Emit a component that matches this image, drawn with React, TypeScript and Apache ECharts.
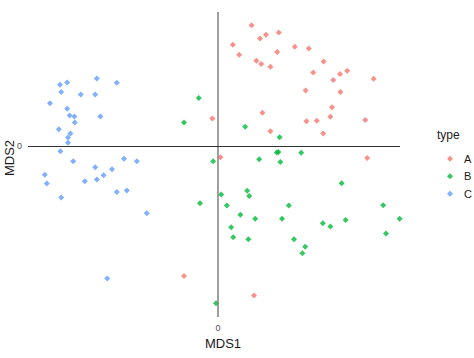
import React, { useEffect, useRef } from "react";
import * as echarts from "echarts";

// MDS coordinates (units)
const typeA: number[][] = [
  [0.084, 0.302], [0.037, 0.253], [0.105, 0.269], [0.12, 0.278], [0.152, 0.284],
  [0.053, 0.228], [0.148, 0.235], [0.192, 0.248], [0.227, 0.244], [0.096, 0.213],
  [0.108, 0.205], [0.131, 0.198], [0.264, 0.211], [0.238, 0.184], [0.288, 0.165],
  [0.305, 0.18], [0.323, 0.188], [0.389, 0.168], [0.219, 0.139], [0.306, 0.135],
  [0.285, 0.097], [0.111, 0.083], [0.281, 0.073], [-0.014, 0.069], [0.221, 0.062],
  [0.247, 0.063], [0.368, 0.065], [0.131, 0.037], [0.263, 0.031], [0.006, -0.028],
  [0.373, -0.03], [-0.085, -0.325], [0.09, -0.374],
];
const typeB: number[][] = [
  [-0.048, 0.12], [-0.085, 0.059], [0.068, 0.048], [0.154, 0.022], [0.147, -0.016],
  [0.151, -0.015], [0.208, -0.017], [-0.012, -0.038], [0.103, -0.033], [0.156, -0.04],
  [0.309, -0.093], [0.008, -0.121], [0.073, -0.112], [0.078, -0.125], [-0.045, -0.143],
  [0.022, -0.149], [0.177, -0.149], [0.413, -0.148], [0.056, -0.172], [0.093, -0.182],
  [0.16, -0.182], [0.319, -0.185], [0.454, -0.182], [0.262, -0.193], [0.281, -0.201],
  [0.033, -0.203], [0.038, -0.228], [0.076, -0.233], [0.19, -0.233], [0.42, -0.219],
  [0.218, -0.252], [0.211, -0.268], [-0.005, -0.393],
];
const typeC: number[][] = [
  [-0.303, 0.169], [-0.377, 0.159], [-0.395, 0.153], [-0.253, 0.158], [-0.392, 0.135],
  [-0.343, 0.129], [-0.307, 0.129], [-0.42, 0.107], [-0.377, 0.093], [-0.371, 0.076],
  [-0.359, 0.074], [-0.294, 0.074], [-0.358, 0.059], [-0.398, 0.042], [-0.369, 0.031],
  [-0.375, 0.021], [-0.375, 0.008], [-0.394, -0.013], [-0.362, -0.038], [-0.235, -0.032],
  [-0.203, -0.038], [-0.307, -0.053], [-0.265, -0.058], [-0.433, -0.072], [-0.286, -0.073],
  [-0.428, -0.094], [-0.333, -0.088], [-0.303, -0.084], [-0.253, -0.115], [-0.228, -0.111],
  [-0.392, -0.129], [-0.178, -0.168], [-0.277, -0.331],
];
const typeNames = ["A", "B", "C"];
const typeColors = ["#F8766D", "#00BA38", "#619CFF"];
const xRange = [-0.475, 0.455];
const yRange = [-0.4275, 0.335];
const tickValues = [0];

export default function App() {
  const ref = useRef<HTMLDivElement>(null);
  useEffect(() => {
    if (!ref.current) return;
    const chart = echarts.init(ref.current, null, { renderer: "svg" });
    const dataSets = [typeA, typeB, typeC];
    const font = "Liberation Sans, Arial, sans-serif";
    chart.setOption({
      animation: false,
      grid: { left: 28, right: 74, top: 12, bottom: 41 },
      xAxis: {
        type: "value",
        min: xRange[0],
        max: xRange[1],
        axisLine: { show: false, onZero: false },
        axisTick: { show: false },
        splitLine: { show: false },
        axisLabel: {
          customValues: tickValues,
          color: "#4d4d4d",
          fontSize: 9,
          fontFamily: font,
          margin: 6,
        },
      },
      yAxis: {
        type: "value",
        min: yRange[0],
        max: yRange[1],
        axisLine: { show: false, onZero: false },
        axisTick: { show: false },
        splitLine: { show: false },
        axisLabel: {
          customValues: tickValues,
          color: "#4d4d4d",
          fontSize: 9,
          fontFamily: font,
          margin: 6,
        },
      },
      legend: {
        orient: "vertical",
        left: 442,
        top: 147,
        itemWidth: 6,
        itemHeight: 6,
        itemGap: 4,
        icon: "diamond",
        data: typeNames,
        textStyle: {
          fontFamily: font,
          fontSize: 11,
          color: "#1a1a1a",
          lineHeight: 13.5,
          padding: [0, 0, 0, 6],
        },
      },
      graphic: [
        {
          type: "text",
          left: 437,
          top: 129,
          style: { text: "type", font: `12px ${font}`, fill: "#1a1a1a" },
        },
        {
          type: "text",
          x: 223,
          y: 343,
          style: {
            text: "MDS1",
            font: `13px ${font}`,
            fill: "#1a1a1a",
            align: "center",
            verticalAlign: "middle",
          },
        },
        {
          type: "text",
          x: 9,
          y: 158,
          rotation: Math.PI / 2,
          style: {
            text: "MDS2",
            font: `13px ${font}`,
            fill: "#1a1a1a",
            align: "center",
            verticalAlign: "middle",
          },
        },
      ],
      series: dataSets.map((d, i) => ({
        type: "scatter",
        name: typeNames[i],
        data: d,
        symbol: "diamond",
        symbolSize: 6,
        itemStyle: { color: typeColors[i] },
        markLine:
          i === 0
            ? {
                silent: true,
                symbol: "none",
                label: { show: false },
                data: [
                  { xAxis: 0, lineStyle: { color: "#7f7f7f", width: 1.5, type: "solid" } },
                  { yAxis: 0, lineStyle: { color: "#333333", width: 1, type: "solid" } },
                ],
              }
            : undefined,
      })),
    });
    return () => chart.dispose();
  }, []);
  return (
    <div
      ref={ref}
      style={{ position: "fixed", left: 0, top: 0, width: 474, height: 358, background: "#fff" }}
    />
  );
}
